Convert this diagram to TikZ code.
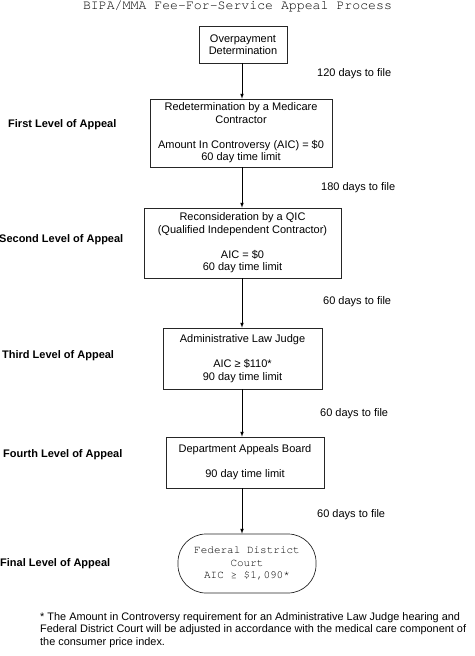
\documentclass[tikz,border=0pt]{standalone}
\usepackage{fontspec}
\setmainfont{Liberation Sans}
\newfontfamily\courierfont{TeX Gyre Cursor}
\usetikzlibrary{arrows,positioning}
\tikzstyle{stepbox}=[draw=black!85,line width=0.7pt,align=center,inner sep=0pt,font=\fontsize{11}{12.5}\selectfont]
\tikzstyle{courtbox}=[stepbox,rounded corners=28pt,font=\courierfont\fontsize{11}{12.5}\selectfont]
\tikzstyle{levellabel}=[anchor=west,inner sep=0pt,font=\bfseries\fontsize{11}{12.5}\selectfont]
\tikzstyle{filelabel}=[anchor=west,inner sep=0pt,font=\fontsize{11}{12.5}\selectfont]
\tikzstyle{flow}=[->,>=latex,line width=0.7pt]

\begin{document}
\begin{tikzpicture}[x=1pt,y=-1pt]
\useasboundingbox (0,0) rectangle (474,656);
\node[anchor=base,inner sep=0pt,font=\courierfont\fontsize{13.2}{15}\selectfont] (title) at (237.5,9.5) {BIPA/MMA Fee-For-Service Appeal Process};

\node[stepbox,minimum width=88pt,minimum height=37pt] (overpay) at (243,44.5) {Overpayment\\Determination};
\node[stepbox,minimum width=182pt,minimum height=68pt] (redet) at (241,133) {Redetermination by a Medicare\\Contractor\\[12.5pt]Amount In Controversy (AIC) = \$0\\60 day time limit};
\node[stepbox,minimum width=197pt,minimum height=70pt] (recon) at (242.5,243) {Reconsideration by a QIC\\(Qualified Independent Contractor)\\[12.5pt]AIC = \$0\\60 day time limit};
\node[stepbox,minimum width=159pt,minimum height=61pt] (alj) at (242.5,358.5) {Administrative Law Judge\\[12.5pt]AIC ≥ \$110*\\90 day time limit};
\node[stepbox,minimum width=158pt,minimum height=51pt] (dab) at (245,462.5) {Department Appeals Board\\[12.5pt]90 day time limit};
\node[courtbox,minimum width=138pt,minimum height=59pt] (court) at (247,563.5) {Federal District\\Court\\AIC ≥ \$1,090*};

\node[levellabel] (lvl1) at (8,125) {First Level of Appeal};
\node[levellabel] (lvl2) at (-1,240) {Second Level of Appeal};
\node[levellabel] (lvl3) at (2,356) {Third Level of Appeal};
\node[levellabel] (lvl4) at (3,455) {Fourth Level of Appeal};
\node[levellabel] (lvl5) at (0,564) {Final Level of Appeal};

\node[filelabel] (file1) at (317,74) {120 days to file};
\node[filelabel] (file2) at (321,188) {180 days to file};
\node[filelabel] (file3) at (323,302) {60 days to file};
\node[filelabel] (file4) at (320,414) {60 days to file};
\node[filelabel] (file5) at (317,515) {60 days to file};

\coordinate (spine) at (242,0);
\draw[flow] (overpay.south -| spine) -- (redet.north -| spine);
\draw[flow] (redet.south -| spine) -- (recon.north -| spine);
\draw[flow] (recon.south -| spine) -- (alj.north -| spine);
\draw[flow] (alj.south -| spine) -- (dab.north -| spine);
\draw[flow] (dab.south -| spine) -- (court.north -| spine);

\node[anchor=base west,align=left,inner sep=0pt,font=\fontsize{10.9}{12.5}\selectfont] (note) at (40,645) {* The Amount in Controversy requirement for an Administrative Law Judge hearing and\\Federal District Court will be adjusted in accordance with the medical care component of\\the consumer price index.};
\end{tikzpicture}
\end{document}
